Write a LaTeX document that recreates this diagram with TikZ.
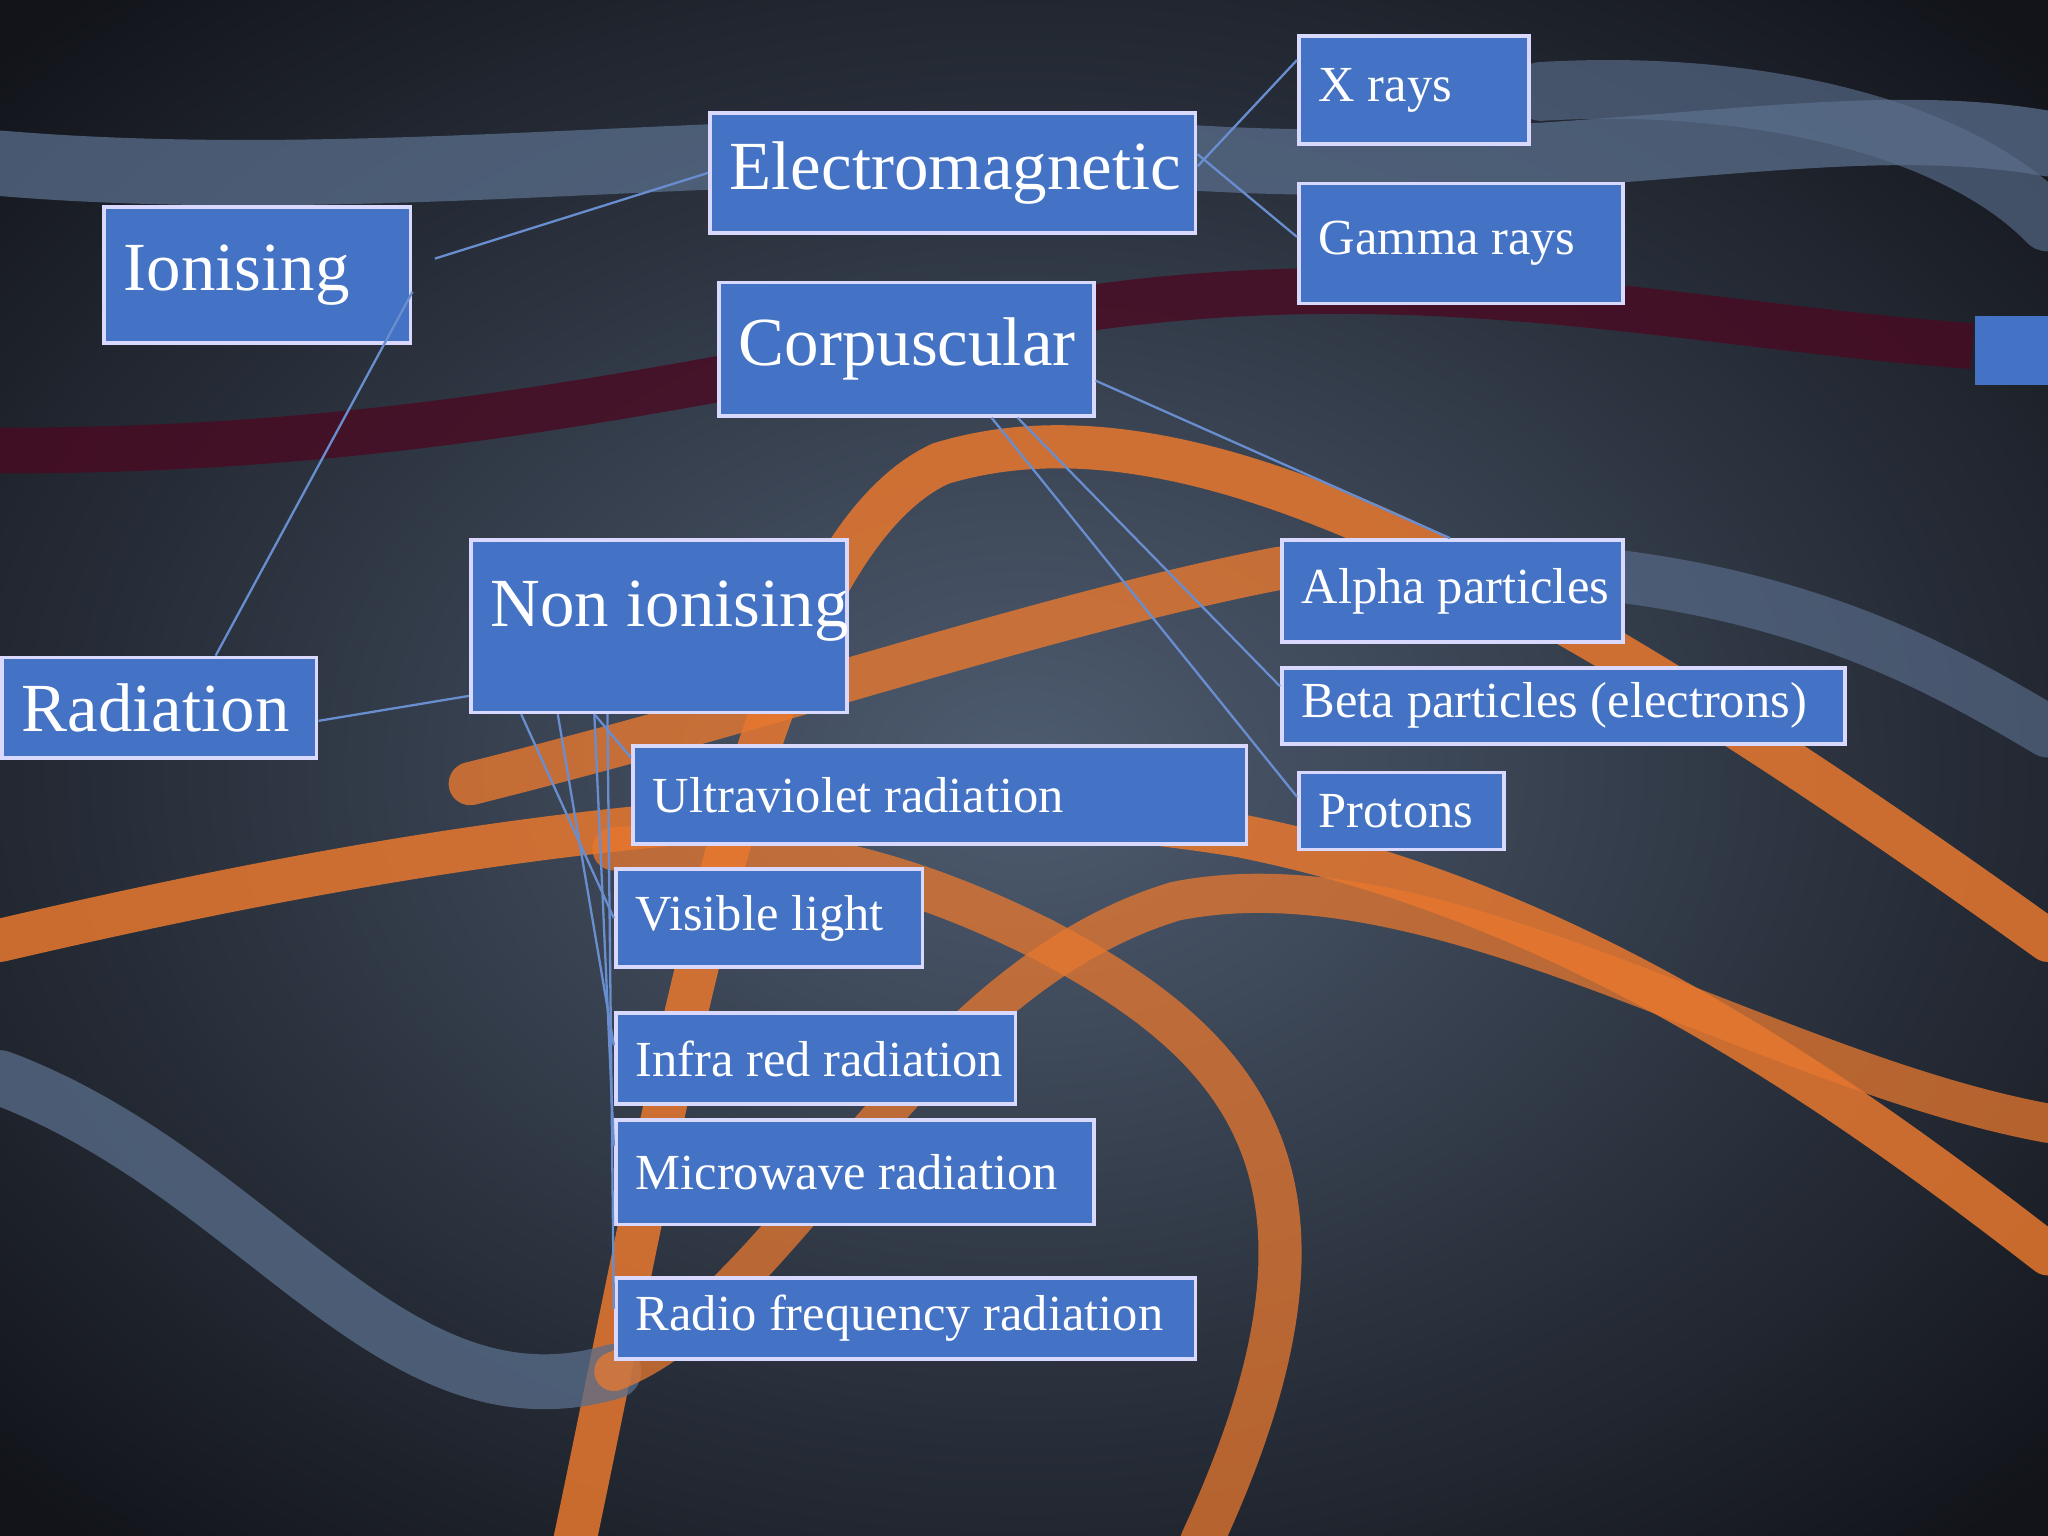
\documentclass[tikz,border=0pt]{standalone}
\usepackage{fontspec}
\setmainfont{Liberation Serif}
\begin{document}
\begin{tikzpicture}[x=0.01cm,y=-0.01cm,
  box/.style={draw=white!85!blue,line width=0.8pt,fill=boxblue,anchor=north west,inner sep=0pt},
  txt/.style={text=white,anchor=west,inner sep=0pt},
  big/.style={font=\fontsize{15}{17}\selectfont},
  med/.style={font=\fontsize{11}{13}\selectfont},
  conn/.style={draw=boxblue!80!white,line width=0.5pt},
  orib/.style={draw=ribor,line cap=round},
  grib/.style={draw=ribgr,line cap=round}]
\definecolor{boxblue}{HTML}{4472C4}
\definecolor{ribor}{HTML}{E8782F}
\definecolor{ribgr}{HTML}{5A6E8C}
\definecolor{ribred}{HTML}{4A0A22}
\useasboundingbox (0,0) rectangle (1568,1176);
\shade[inner color={rgb,255:red,78;green,92;blue,112},outer color={rgb,255:red,18;green,20;blue,26}] (-300,-200) rectangle (1868,1376);
% ribbons
\draw[grib,line width=0.5cm,opacity=0.75] (0,125) .. controls (300,150) and (600,100) .. (900,120) .. controls (1200,140) and (1400,80) .. (1568,110);
\draw[grib,line width=0.45cm,opacity=0.65] (1180,70) .. controls (1350,60) and (1500,100) .. (1568,170);
\draw[ribred,line width=0.35cm,opacity=0.8] (0,345) .. controls (300,345) and (500,300) .. (840,235) .. controls (1100,200) and (1300,250) .. (1510,265);
\fill[boxblue] (1512,242) rectangle (1568,295);
\draw[orib,line width=0.33cm,opacity=0.8] (360,600) .. controls (600,540) and (800,470) .. (980,435);
\draw[orib,line width=0.33cm,opacity=0.85] (440,1180) .. controls (520,800) and (580,420) .. (720,355) .. controls (900,300) and (1150,420) .. (1568,720);
\draw[orib,line width=0.33cm,opacity=0.85] (0,720) .. controls (300,650) and (650,590) .. (950,640) .. controls (1200,690) and (1400,830) .. (1568,960);
\draw[orib,line width=0.33cm,opacity=0.75] (920,1180) .. controls (1050,900) and (950,800) .. (800,720) .. controls (700,670) and (600,640) .. (470,650);
\draw[grib,line width=0.42cm,opacity=0.75] (0,825) .. controls (200,900) and (300,1100) .. (470,1050);
\draw[orib,line width=0.3cm,opacity=0.75] (470,1050) .. controls (600,1000) and (700,750) .. (900,690) .. controls (1100,650) and (1350,820) .. (1568,860);
\draw[grib,line width=0.4cm,opacity=0.65] (1230,440) .. controls (1400,460) and (1500,520) .. (1568,560);
% boxes
\newcommand\bx[8]{\node[box,#6,minimum width={(#4-#2)*0.01cm},minimum height={(#5-#3)*0.01cm}] (#1) at (#2,#3) {};
  \node[txt,#6] (#1t) at ([xshift=#7*0.01cm,yshift=0cm]#1.west) {#8};}
\bx{ion}{78}{157}{313}{261}{big}{16}{\raisebox{0.08cm}{Ionising}}
\bx{em}{542}{85}{914}{177}{big}{16}{Electromagnetic}
\bx{xr}{993}{26}{1169}{109}{med}{16}{X rays}
\bx{gr}{993}{139}{1241}{231}{med}{16}{Gamma rays}
\bx{cor}{549}{215}{836}{317}{big}{16}{Corpuscular}
\bx{non}{359}{412}{647}{544}{big}{16}{\raisebox{0.34cm}{Non ionising}}
\bx{rad}{0}{502}{241}{579}{big}{16}{Radiation}
\bx{alp}{980}{412}{1241}{490}{med}{16}{Alpha particles}
\bx{bet}{980}{510}{1411}{568}{med}{16}{Beta particles (electrons)}
\bx{pro}{993}{590}{1150}{649}{med}{16}{Protons}
\bx{uv}{483}{570}{953}{645}{med}{16}{Ultraviolet radiation}
\bx{vis}{470}{664}{705}{739}{med}{16}{Visible light}
\bx{ir}{470}{774}{776}{844}{med}{16}{Infra red radiation}
\bx{mw}{470}{856}{836}{936}{med}{16}{Microwave radiation}
\bx{rf}{470}{977}{914}{1039}{med}{16}{Radio frequency radiation}
% connectors
\coordinate (c1) at (333,198);
\draw[conn] (c1) -- (em.west);
\draw[conn] ([xshift=1.65cm]rad.north west) -- ([yshift=-0.13cm]ion.east);
\draw[conn] ([yshift=-0.1cm]rad.east) -- ([yshift=0.14cm]non.south west);
\draw[conn] ([yshift=0.05cm]em.east) -- ([yshift=-0.2cm]xr.north west);
\draw[conn] ([yshift=-0.33cm]em.north east) -- ([yshift=0.05cm]gr.west);
\draw[conn] ([yshift=-0.24cm]cor.east) -- ([xshift=1.3cm]alp.north west);
\draw[conn] ([xshift=2.3cm]cor.south west) -- ([yshift=0.15cm]bet.west);
\draw[conn] ([xshift=2.1cm]cor.south west) -- ([yshift=-0.2cm]pro.north west);
\draw[conn] ([xshift=0.96cm]non.south west) -- ([yshift=-0.1cm]uv.north west);
\draw[conn] ([xshift=0.4cm]non.south west) -- (vis.west);
\draw[conn] ([xshift=0.68cm]non.south west) -- ([yshift=0.1cm]ir.west);
\draw[conn] ([xshift=0.96cm]non.south west) -- ([yshift=0.2cm]mw.west);
\draw[conn] ([xshift=1.06cm]non.south west) -- ([yshift=-0.25cm]rf.north west);
\end{tikzpicture}
\end{document}
